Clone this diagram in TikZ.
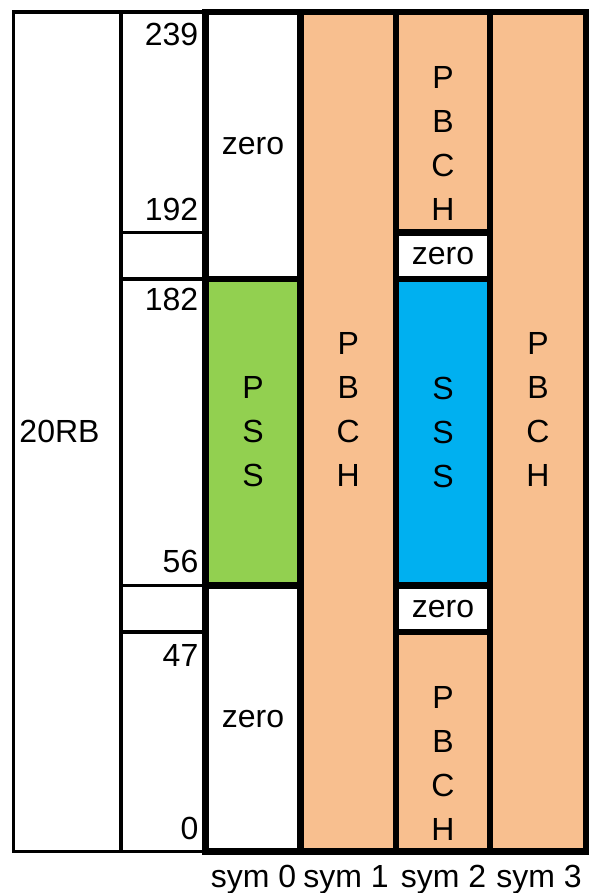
\documentclass[tikz,border=0pt]{standalone}
\usepackage{fontspec}
\setmainfont{Liberation Sans}
\usetikzlibrary{positioning,fit}
\definecolor{pbch}{HTML}{F8BF8F}
\definecolor{pss}{HTML}{92D050}
\definecolor{sss}{HTML}{00B0F0}

\begin{document}
\begin{tikzpicture}[
    x=1pt, y=-1pt,
    idxcell/.style={rectangle, draw=black, line width=3.5pt, fill=white, inner sep=0pt},
    symcell/.style={rectangle, draw=black, line width=6.5pt, fill=white, inner sep=0pt},
    txt/.style={font=\fontsize{32}{44}\selectfont, inner sep=0pt, align=center},
    num/.style={txt, anchor=east},
    symlabel/.style={txt, anchor=base}
]
\useasboundingbox (0,0) rectangle (601,893);

% Index columns
\node[idxcell, fit={(13.5,12) (121,851.5)}] (rbcol) {};
\node[idxcell, fit={(121,12) (205.5,232.5)}] (idxtop) {};
\node[idxcell, fit={(121,232.5) (205.5,279)}] (gaptop) {};
\node[idxcell, fit={(121,279) (205.5,585.5)}] (idxmid) {};
\node[idxcell, fit={(121,585.5) (205.5,632)}] (gapbot) {};
\node[idxcell, fit={(121,632) (205.5,851.5)}] (idxbot) {};

% sym 0
\node[symcell, fit={(205.5,12) (300.5,279)}] (zerotop) {};
\node[symcell, fill=pss, fit={(205.5,279) (300.5,585.5)}] (psscell) {};
\node[symcell, fit={(205.5,585.5) (300.5,851.5)}] (zerobot) {};

% sym 1
\node[symcell, fill=pbch, fit={(300.5,12) (396,851.5)}] (pbchone) {};

% sym 2
\node[symcell, fill=pbch, fit={(396,12) (490,232.5)}] (pbchtop) {};
\node[symcell, fit={(396,232.5) (490,279)}] (zerossstop) {};
\node[symcell, fill=sss, fit={(396,279) (490,585.5)}] (ssscell) {};
\node[symcell, fit={(396,585.5) (490,632)}] (zerosssbot) {};
\node[symcell, fill=pbch, fit={(396,632) (490,851.5)}] (pbchbot) {};

% sym 3
\node[symcell, fill=pbch, fit={(490,12) (586,851.5)}] (pbchthree) {};

% Texts
\node[txt] (rb) at (59.5,431) {20RB};
\node[num] (n239) at (198.5,34) {239};
\node[num] (n192) at (198.5,209.5) {192};
\node[num] (n182) at (198.5,299.5) {182};
\node[num] (n56) at (198.5,561.5) {56};
\node[num] (n47) at (198.5,655) {47};
\node[num] (n0) at (198.5,828.5) {0};

\node[txt] (zeroa) at (253,146) {zero};
\node[txt] (pss) at (253,432) {P\\S\\S};
\node[txt] (zerob) at (253,719) {zero};
\node[txt] (pbcha) at (348.25,409.5) {P\\B\\C\\H};
\node[txt] (pbchb) at (443,143.5) {P\\B\\C\\H};
\node[txt] (zeroc) at (443,256) {zero};
\node[txt] (sss) at (443,432) {S\\S\\S};
\node[txt] (zerod) at (443,609.5) {zero};
\node[txt] (pbchc) at (443,763.5) {P\\B\\C\\H};
\node[txt] (pbchd) at (538,409.5) {P\\B\\C\\H};

% Symbol labels
\node[symlabel] (sym0) at (253.5,887) {sym 0};
\node[symlabel] (sym1) at (346,887) {sym 1};
\node[symlabel] (sym2) at (443.5,887) {sym 2};
\node[symlabel] (sym3) at (539,887) {sym 3};
\end{tikzpicture}
\end{document}
